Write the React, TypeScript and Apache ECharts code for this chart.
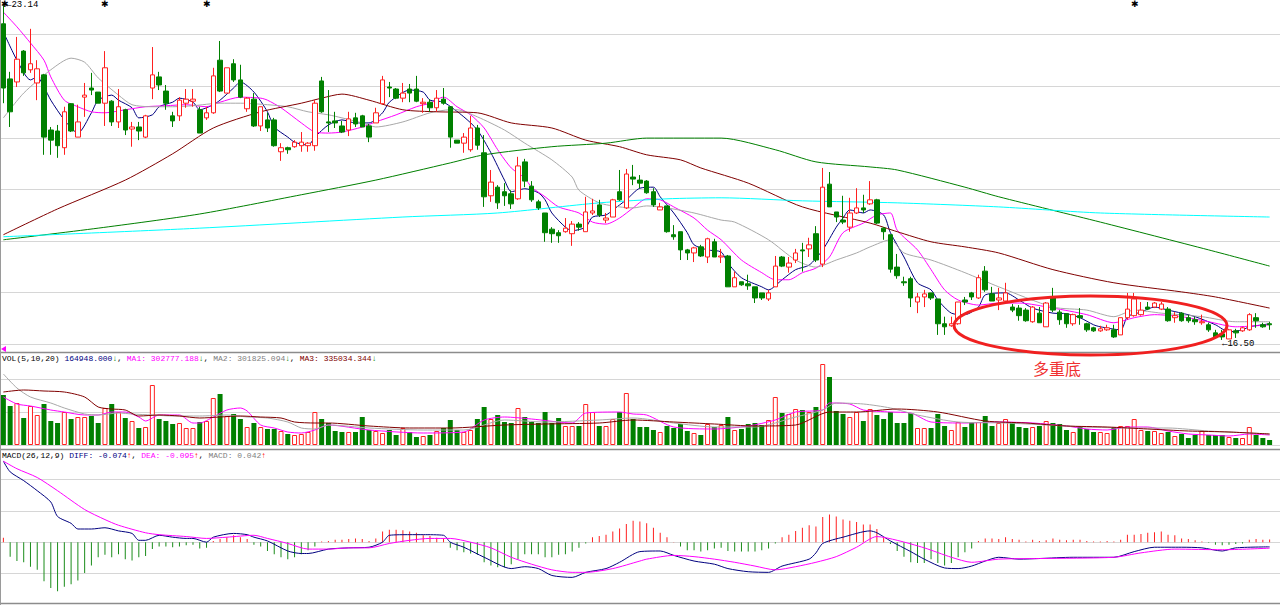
import React, { useEffect, useRef } from "react";
import * as echarts from "echarts";

// [open, close, low, high]
const candles: number[][] = [
[22.75,21.48,21.18,23.14],[21.66,21.01,20.71,21.80],[21.60,22.05,21.50,22.49],[22.21,21.78,21.72,22.23],[21.84,21.96,21.78,22.65],
[21.58,21.86,21.24,22.03],[21.74,20.51,20.16,21.76],[20.65,20.45,20.16,20.71],[20.63,20.34,20.10,20.75],[20.30,21.01,20.16,21.11],
[21.17,20.63,20.61,21.18],[20.51,20.81,20.51,21.15],[21.30,21.34,20.91,21.58],[21.48,21.44,21.34,21.78],[21.40,21.18,21.18,21.40],
[21.18,21.88,20.73,22.21],[21.22,20.81,20.73,21.24],[20.81,21.11,20.69,21.46],[21.05,20.65,20.55,21.07],[20.67,20.71,20.32,20.81],
[20.71,20.63,20.45,20.81],[20.51,20.93,20.49,20.95],[21.48,21.74,21.26,22.29],[21.70,21.54,21.44,21.80],[21.42,21.18,21.05,21.54],
[20.93,20.83,20.71,21.01],[20.93,21.24,20.83,21.30],[21.18,21.26,21.09,21.46],[21.22,21.26,21.11,21.46],[21.05,20.59,20.59,21.11],
[20.89,20.99,20.85,21.11],[20.99,21.72,20.97,21.88],[22.03,21.42,21.40,22.41],[21.38,21.88,21.38,21.88],[21.96,21.64,21.60,22.05],
[21.64,21.30,21.28,21.94],[21.07,21.28,21.01,21.30],[21.26,20.73,20.71,21.38],[20.73,21.11,20.63,21.11],[20.85,20.69,20.61,20.99],
[20.85,20.34,20.32,20.89],[20.22,20.30,20.04,20.39],[20.30,20.26,20.18,20.32],[20.32,20.41,20.30,20.45],[20.34,20.41,20.22,20.61],
[20.34,20.39,20.22,20.41],[20.34,21.18,20.24,21.24],[21.62,21.01,20.99,21.70],[20.81,20.79,20.61,21.44],[20.83,20.79,20.69,21.01],
[20.73,20.61,20.59,20.83],[20.65,20.87,20.53,21.01],[20.89,20.77,20.71,20.99],[20.93,20.71,20.71,20.95],[20.73,20.51,20.41,20.77],
[20.79,20.99,20.79,21.09],[21.17,21.64,21.15,21.72],[21.50,21.48,21.30,21.60],[21.46,21.28,21.26,21.48],[21.28,21.38,21.20,21.58],
[21.46,21.38,21.20,21.56],[21.46,21.22,21.20,21.72],[21.17,21.20,20.99,21.28],[21.20,21.09,21.01,21.26],[21.09,21.28,21.01,21.44],
[21.26,21.18,21.15,21.48],[21.11,20.51,20.30,21.11],[20.45,20.39,20.39,20.45],[20.39,20.51,20.20,20.59],[20.26,20.69,20.22,20.93],
[20.69,20.35,20.26,20.75],[20.20,19.33,19.13,20.55],[19.35,19.62,19.23,19.86],[19.52,19.21,19.09,19.56],[19.43,19.35,19.15,19.60],
[19.39,19.19,19.09,19.46],[19.29,19.94,19.27,20.12],[20.02,19.64,19.52,20.08],[19.54,19.27,19.23,19.64],[19.23,19.11,19.07,19.27],
[19.01,18.62,18.44,19.01],[18.69,18.60,18.42,18.73],[18.62,18.56,18.42,18.67],[18.64,18.71,18.62,18.91],[18.60,18.79,18.36,18.85],
[18.79,18.73,18.66,18.83],[18.64,19.03,18.64,19.33],[19.01,19.05,18.97,19.29],[19.17,18.97,18.93,19.27],[18.87,18.91,18.81,19.01],
[18.93,19.27,18.93,19.29],[19.43,19.27,19.25,19.86],[19.11,19.78,19.09,19.88],[19.72,19.68,19.56,19.96],[19.66,19.60,19.50,19.76],
[19.64,19.41,19.39,19.66],[19.43,19.17,19.13,19.50],[19.07,19.13,19.07,19.21],[19.15,18.64,18.62,19.15],[18.58,18.54,18.48,18.77],
[18.64,18.28,18.08,18.64],[18.28,18.22,18.08,18.30],[18.22,18.32,18.04,18.34],[18.34,18.16,18.14,18.38],[18.14,18.50,18.02,18.52],
[18.44,18.14,18.14,18.50],[18.14,18.16,18.02,18.30],[18.16,17.55,17.55,18.18],[17.55,17.73,17.55,17.85],[17.65,17.59,17.57,17.65],
[17.61,17.57,17.49,17.79],[17.55,17.33,17.23,17.55],[17.43,17.33,17.29,17.43],[17.31,17.43,17.27,17.49],[17.55,17.96,17.55,18.16],
[18.14,17.96,17.94,18.16],[17.94,18.02,17.83,18.14],[18.08,18.22,18.02,18.30],[18.28,18.26,17.85,18.42],[18.30,18.38,18.14,18.52],
[18.60,18.08,18.04,18.75],[18.00,19.52,17.94,19.90],[19.58,19.13,19.13,19.82],[19.03,18.93,18.83,19.03],[18.87,18.83,18.79,19.35],
[18.73,19.01,18.64,19.31],[19.01,19.11,18.99,19.50],[19.11,19.07,19.01,19.37],[19.19,19.27,19.17,19.64],[19.27,18.81,18.79,19.29],
[18.71,18.64,18.48,18.73],[18.58,17.90,17.83,18.58],[17.94,17.77,17.71,18.20],[17.65,17.63,17.57,17.75],[17.71,17.33,17.15,17.75],
[17.25,17.35,17.03,17.43],[17.35,17.41,17.15,17.49],[17.43,17.33,17.29,17.43],[17.31,16.82,16.60,17.31],[16.82,16.76,16.60,16.96],
[16.78,16.82,16.76,16.96],[16.82,17.25,16.80,17.25],[17.29,17.25,17.19,17.35],[17.43,17.35,17.29,17.45],[17.33,17.73,17.31,17.79],
[17.86,17.49,17.45,17.96],[17.41,17.27,17.27,17.55],[17.29,17.33,17.09,17.53],[17.27,17.43,17.23,17.63],[17.15,17.09,17.05,17.21],
[17.13,16.98,16.88,17.19],[17.09,16.88,16.86,17.13],[16.86,17.15,16.84,17.17],[17.03,16.84,16.84,17.15],[16.76,17.23,16.76,17.25],
[17.35,17.09,17.05,17.53],[17.05,16.90,16.80,17.09],[17.02,16.82,16.74,17.03],[16.82,17.00,16.78,17.02],[16.98,16.94,16.80,17.13],
[16.82,16.70,16.66,16.84],[16.74,16.68,16.66,16.76],[16.68,16.72,16.66,16.78],[16.70,16.74,16.68,16.80],[16.70,16.56,16.54,16.80],
[16.60,16.94,16.60,16.94],[16.94,17.11,16.90,17.43],[16.98,17.31,16.96,17.43],[17.00,17.09,16.98,17.25],[17.15,17.11,17.09,17.25],
[17.15,17.23,17.13,17.25],[17.11,17.21,17.09,17.25],[17.11,16.88,16.86,17.15],[16.94,16.98,16.84,17.05],[17.03,16.88,16.86,17.05],
[16.94,16.88,16.84,17.00],[16.90,16.86,16.80,16.96],[16.84,16.86,16.80,17.00],[16.80,16.70,16.66,16.84],[16.64,16.56,16.54,16.70],
[16.62,16.56,16.50,16.70],[16.52,16.70,16.52,16.72],[16.68,16.64,16.54,16.72],[16.68,16.74,16.66,16.76],[16.70,17.00,16.68,17.03],
[16.94,16.88,16.74,17.03],[16.80,16.76,16.74,16.84],[16.82,16.80,16.70,16.86],
];

const volumes: number[] = [
1650000,1287000,1386000,891000,1287000,990000,1353000,792000,726000,1089000,
858000,924000,924000,957000,726000,1221000,1353000,1089000,891000,792000,
561000,594000,1980000,858000,792000,693000,726000,561000,561000,759000,
792000,1551000,1683000,957000,1023000,858000,594000,726000,594000,528000,
528000,462000,363000,330000,363000,429000,1089000,858000,726000,462000,
429000,429000,429000,924000,495000,462000,396000,495000,330000,561000,
429000,264000,297000,330000,462000,561000,825000,495000,429000,495000,
858000,1254000,858000,990000,759000,726000,1221000,924000,759000,726000,
1089000,726000,891000,627000,627000,627000,1353000,1089000,627000,627000,
858000,1089000,1716000,858000,594000,594000,495000,429000,627000,561000,
693000,462000,396000,330000,693000,594000,660000,924000,495000,528000,
693000,726000,660000,825000,1584000,1056000,1023000,1188000,1155000,1089000,
1254000,2673000,2244000,1122000,1023000,924000,1089000,792000,1188000,990000,
858000,1089000,726000,726000,1056000,561000,561000,561000,1023000,627000,
495000,759000,594000,759000,759000,957000,627000,726000,858000,726000,
594000,561000,594000,627000,792000,726000,693000,495000,429000,594000,
528000,429000,429000,396000,594000,627000,627000,858000,495000,462000,
462000,396000,429000,297000,363000,231000,330000,462000,330000,330000,
330000,264000,231000,231000,594000,330000,231000,164948,
];

const macdHist: number[] = [
0.07,-0.23,-0.30,-0.32,-0.39,-0.44,-0.62,-0.73,-0.78,-0.71,
-0.67,-0.61,-0.49,-0.37,-0.24,-0.20,-0.24,-0.19,-0.27,-0.29,
-0.24,-0.22,-0.11,-0.07,-0.07,-0.08,-0.07,-0.05,-0.04,-0.10,
-0.09,0.02,0.05,0.08,0.11,0.08,0.05,-0.04,-0.07,-0.14,
-0.19,-0.24,-0.27,-0.24,-0.19,-0.13,-0.07,0.01,0.02,0.04,
0.04,0.05,0.06,0.05,0.02,0.06,0.17,0.20,0.20,0.19,
0.17,0.15,0.11,0.10,0.07,0.05,-0.09,-0.13,-0.16,-0.18,
-0.20,-0.32,-0.37,-0.40,-0.40,-0.35,-0.27,-0.19,-0.19,-0.19,
-0.24,-0.24,-0.20,-0.19,-0.15,-0.09,-0.02,0.08,0.10,0.12,
0.17,0.22,0.29,0.34,0.33,0.30,0.23,0.15,0.08,0.005,
-0.07,-0.13,-0.13,-0.15,-0.13,-0.10,-0.09,-0.14,-0.15,-0.15,
-0.15,-0.15,-0.13,-0.10,-0.02,0.08,0.12,0.18,0.23,0.27,
0.25,0.40,0.44,0.41,0.36,0.34,0.32,0.28,0.28,0.21,
0.08,-0.03,-0.14,-0.23,-0.32,-0.33,-0.33,-0.27,-0.33,-0.37,
-0.33,-0.24,-0.16,-0.10,0.02,0.06,0.06,0.05,0.08,0.05,
0.04,0.01,0.04,0.02,0.03,0.06,0.04,0.03,0.04,0.04,
0.02,0.01,0.01,0.02,0.01,0.04,0.12,0.12,0.13,0.15,
0.16,0.17,0.12,0.11,0.06,0.05,0.03,0.01,-0.01,-0.04,
-0.05,-0.04,-0.03,-0.02,0.04,0.05,0.04,0.042,
];

// moving-average readings: [day index, value]
const ma5Pts = [[0,22.59],[2,22.03],[4,21.64],[5,21.70],[6,21.50],[7,21.24],[9,20.85],[11,20.59],[13,20.99],[14,21.24],[16,21.34],[17,21.24],[19,21.09],[20,20.89],[22,20.95],[23,21.11],[25,21.20],[26,21.28],[28,21.20],[29,21.05],[31,21.15],[32,21.24],[34,21.48],[35,21.60],[37,21.40],[39,21.01],[40,20.71],[42,20.51],[43,20.41],[45,20.35],[46,20.51],[48,20.75],[50,20.85],[52,20.79],[54,20.79],[56,20.99],[57,21.20],[60,21.44],[62,21.40],[63,21.24],[65,21.20],[68,20.91],[70,20.65],[72,20.20],[74,19.66],[75,19.43],[76,19.46],[77,19.49],[79,19.41],[80,19.27],[81,19.01],[83,18.73],[84,18.66],[86,18.73],[87,18.93],[89,18.97],[90,19.07],[92,19.27],[94,19.50],[96,19.52],[97,19.33],[99,19.01],[101,18.62],[102,18.38],[104,18.28],[106,18.24],[107,18.02],[109,17.73],[112,17.55],[113,17.49],[115,17.69],[117,17.89],[119,17.98],[121,18.28],[123,18.73],[124,18.91],[125,19.07],[127,19.01],[128,19.07],[130,18.97],[131,18.62],[133,18.14],[135,17.63],[137,17.49],[138,17.29],[140,17.03],[142,17.00],[144,17.15],[145,17.39],[148,17.43],[150,17.29],[152,17.13],[155,17.03],[157,17.02],[159,16.94],[161,16.80],[162,16.76],[165,16.70],[166,16.96],[168,17.05],[170,17.15],[172,17.09],[174,17.03],[176,16.96],[179,16.80],[181,16.66],[183,16.70],[184,16.76],[186,16.80],[187,16.82]];
const ma10Pts = [[0,22.98],[2,22.69],[4,22.37],[6,22.03],[7,21.70],[9,21.24],[11,21.11],[13,21.01],[15,20.99],[18,21.05],[21,21.11],[24,21.13],[27,21.15],[30,21.11],[32,21.20],[35,21.30],[38,21.28],[39,21.24],[41,21.09],[44,20.79],[46,20.61],[48,20.59],[50,20.61],[53,20.71],[55,20.81],[58,20.95],[61,21.11],[63,21.18],[65,21.30],[67,21.11],[69,20.95],[71,20.69],[73,20.26],[75,19.90],[77,19.70],[78,19.52],[80,19.33],[82,19.13],[85,19.01],[87,18.83],[89,18.79],[91,18.91],[93,19.11],[95,19.29],[97,19.27],[99,19.13],[102,18.91],[104,18.67],[106,18.48],[109,18.08],[112,17.83],[114,17.69],[116,17.69],[118,17.83],[120,17.92],[122,18.14],[124,18.62],[127,18.81],[129,18.97],[131,19.01],[132,18.67],[135,18.28],[137,17.89],[139,17.49],[141,17.29],[144,17.19],[147,17.23],[150,17.23],[155,17.13],[160,17.00],[164,16.84],[167,16.94],[170,17.00],[174,16.96],[178,16.86],[182,16.76],[187,16.80]];
const ma20Pts = [[0,20.89],[3,21.38],[7,21.84],[10,22.07],[12,21.99],[14,21.68],[17,21.34],[19,21.15],[22,21.11],[25,21.11],[28,21.13],[32,21.18],[35,21.18],[39,21.15],[42,21.11],[45,21.01],[48,20.95],[50,20.89],[53,20.79],[55,20.71],[59,20.81],[63,20.99],[66,21.05],[67,21.05],[70,20.91],[74,20.65],[77,20.39],[81,20.06],[84,19.72],[85,19.46],[88,19.21],[91,19.13],[93,19.11],[95,19.15],[98,19.11],[102,19.01],[106,18.87],[108,18.83],[113,18.48],[117,18.08],[120,17.94],[123,18.08],[126,18.22],[128,18.34],[131,18.48],[133,18.22],[137,18.08],[142,17.83],[147,17.55],[155,17.15],[160,17.09],[164,16.96],[167,17.09],[171,17.03],[177,16.96],[182,16.86],[187,16.86]];
const ma60Pts = [[0,18.58],[8,19.09],[18,19.66],[25,20.18],[31,20.69],[38,21.01],[44,21.18],[47,21.28],[50,21.36],[54,21.24],[59,21.05],[64,21.01],[70,20.99],[75,20.79],[81,20.69],[86,20.45],[91,20.32],[95,20.16],[100,20.06],[103,19.90],[110,19.60],[118,19.13],[128,18.81],[132,18.64],[137,18.44],[142,18.34],[147,18.22],[155,17.89],[164,17.63],[174,17.45],[179,17.35],[187,17.13]];
const ma120Pts = [[0,18.48],[14,18.71],[29,18.99],[44,19.37],[55,19.66],[66,20.00],[71,20.16],[81,20.32],[89,20.39],[95,20.49],[106,20.49],[114,20.26],[120,20.02],[128,19.92],[132,19.86],[142,19.52],[147,19.33],[162,18.83],[178,18.28],[187,17.96]];
const ma250Pts = [[0,18.54],[29,18.71],[59,18.93],[73,19.01],[88,19.21],[98,19.29],[106,19.31],[118,19.25],[132,19.21],[147,19.13],[162,19.01],[187,18.93]];

const volMa5Pts = [[0,1584000],[2,1353000],[4,1287000],[7,1155000],[9,1089000],[12,990000],[14,990000],[16,1089000],[18,1089000],[20,924000],[21,792000],[23,990000],[26,990000],[28,726000],[29,726000],[31,924000],[33,1155000],[35,1221000],[36,1122000],[38,660000],[40,561000],[42,429000],[44,396000],[46,495000],[48,660000],[54,495000],[62,396000],[68,429000],[71,825000],[74,924000],[78,858000],[84,726000],[86,1056000],[91,1089000],[93,1023000],[95,990000],[99,594000],[105,528000],[110,627000],[114,825000],[117,1089000],[121,1155000],[122,1386000],[125,1353000],[127,1155000],[131,1089000],[134,1056000],[137,759000],[142,726000],[147,759000],[152,726000],[157,627000],[160,528000],[163,495000],[166,594000],[169,594000],[172,462000],[175,363000],[178,330000],[181,297000],[184,363000],[187,330000]];
const volMa10Pts = [[0,2343000],[2,1881000],[4,1584000],[7,1386000],[9,1221000],[12,1023000],[14,990000],[17,1056000],[19,1023000],[22,990000],[25,957000],[29,957000],[33,990000],[36,924000],[39,891000],[42,759000],[44,561000],[46,528000],[48,660000],[54,561000],[62,495000],[68,495000],[74,825000],[80,759000],[88,825000],[93,891000],[99,726000],[105,594000],[111,594000],[117,924000],[121,1155000],[123,1386000],[127,1353000],[131,1221000],[135,990000],[141,759000],[148,726000],[154,660000],[160,594000],[166,561000],[172,561000],[178,462000],[184,396000],[187,363000]];
const volMa20Pts = [[0,1749000],[3,1815000],[6,1782000],[9,1749000],[12,1584000],[14,1254000],[16,1188000],[18,1155000],[20,957000],[23,990000],[26,957000],[29,891000],[32,924000],[35,957000],[38,924000],[41,891000],[43,759000],[46,726000],[48,726000],[54,627000],[60,561000],[66,561000],[74,660000],[80,693000],[88,726000],[93,825000],[99,759000],[105,693000],[111,627000],[117,660000],[122,1089000],[126,1089000],[132,1188000],[138,1089000],[145,792000],[151,726000],[157,627000],[163,594000],[169,528000],[175,462000],[181,429000],[187,363000]];

const diffPts = [[0,1.29],[1,1.12],[3,0.98],[5,0.82],[7,0.64],[8,0.41],[10,0.30],[11,0.21],[13,0.21],[15,0.23],[17,0.18],[19,0.14],[20,0.03],[21,0.03],[23,0.11],[25,0.08],[27,0.06],[28,0.06],[30,0.0],[31,0.08],[34,0.14],[36,0.12],[37,0.08],[39,0.02],[42,-0.14],[44,-0.18],[45,-0.18],[48,-0.11],[51,-0.09],[54,-0.08],[56,0.0],[57,0.11],[60,0.12],[62,0.12],[65,0.11],[66,0.0],[68,-0.08],[71,-0.24],[75,-0.42],[77,-0.39],[79,-0.42],[81,-0.53],[84,-0.56],[86,-0.48],[89,-0.42],[91,-0.32],[94,-0.15],[97,-0.14],[99,-0.21],[102,-0.30],[105,-0.35],[107,-0.42],[110,-0.47],[113,-0.48],[115,-0.38],[119,-0.27],[120,-0.17],[121,-0.02],[124,0.08],[128,0.18],[129,0.15],[131,0.02],[134,-0.15],[136,-0.27],[139,-0.41],[141,-0.42],[143,-0.38],[145,-0.30],[147,-0.24],[150,-0.27],[153,-0.26],[158,-0.24],[164,-0.24],[167,-0.15],[170,-0.08],[174,-0.08],[177,-0.09],[180,-0.14],[182,-0.09],[187,-0.074]];
const deaPts = [[0,1.29],[2,1.17],[5,1.03],[8,0.82],[12,0.52],[15,0.36],[17,0.27],[21,0.15],[23,0.12],[27,0.09],[30,0.06],[33,0.08],[37,0.11],[39,0.06],[42,-0.02],[45,-0.11],[48,-0.11],[51,-0.09],[54,-0.09],[57,-0.02],[60,0.03],[63,0.06],[66,0.06],[69,0.0],[72,-0.09],[75,-0.24],[78,-0.35],[81,-0.44],[84,-0.48],[86,-0.48],[90,-0.42],[94,-0.30],[95,-0.27],[99,-0.21],[102,-0.23],[105,-0.27],[108,-0.32],[111,-0.38],[114,-0.44],[117,-0.39],[120,-0.32],[123,-0.23],[126,-0.08],[129,0.09],[132,0.03],[136,-0.09],[140,-0.24],[143,-0.32],[147,-0.27],[153,-0.26],[164,-0.24],[168,-0.17],[173,-0.11],[180,-0.12],[187,-0.095]];

const days = candles.map((_, i) => "D" + (i + 1));

const GRID_W = 1273;
const gridColor = "#d6d6d6";

function maLine(name: string, pts: number[][], color: string, xi: number, yi: number) {
  return {
    name, type: "line", xAxisIndex: xi, yAxisIndex: yi, data: pts,
    symbol: "none", smooth: 0.25, silent: true,
    lineStyle: { color, width: 1 }, z: 3,
  };
}

function bgAxis(gridIndex: number, max: number) {
  return {
    type: "value", gridIndex, min: 0, max, interval: 1,
    axisLine: { show: false }, axisTick: { show: false }, axisLabel: { show: false },
    splitLine: { show: true, showMaxLine: false, lineStyle: { color: gridColor, width: 1 } },
  };
}

export default function App() {
  const ref = useRef<HTMLDivElement>(null);
  useEffect(() => {
    if (!ref.current) return;
    const chart = echarts.init(ref.current, null, { renderer: "svg" });
    const catAxis = (gridIndex: number) => ({
      type: "category", gridIndex, data: days, boundaryGap: true,
      axisLine: { show: false }, axisTick: { show: false }, axisLabel: { show: false }, splitLine: { show: false },
    });
    const hiddenX = (gridIndex: number) => ({ type: "value", gridIndex, show: false, min: 0, max: 1 });
    const mono = "'Liberation Mono', 'DejaVu Sans Mono', monospace";

    const volData = volumes.map((v, i) => {
      const up = candles[i][1] >= candles[i][0];
      return {
        value: v,
        itemStyle: up
          ? { color: "#ffffff", borderColor: "#ff2020", borderWidth: 1 }
          : { color: "#008000", borderColor: "#008000", borderWidth: 0 },
      };
    });
    const macdData = macdHist.map((v) => ({ value: v, itemStyle: { color: v >= 0 ? "#ff2020" : "#1a8c1a" } }));

    chart.setOption({
      animation: false,
      backgroundColor: "#ffffff",
      grid: [
        { left: 0, top: 0, width: GRID_W, height: 344 },
        { left: 0, top: 347, width: GRID_W, height: 98 },
        { left: 0, top: 448, width: GRID_W, height: 165 },
        { left: 0, top: 0, width: 1280, height: 344.4 },
        { left: 0, top: 347, width: 1280, height: 98 },
        { left: 0, top: 448, width: 1280, height: 165 },
      ],
      xAxis: [catAxis(0), catAxis(1), catAxis(2), hiddenX(3), hiddenX(4), hiddenX(5)],
      yAxis: [
        { type: "value", gridIndex: 0, min: 16.42, max: 23.22, show: false },
        { type: "value", gridIndex: 1, min: 0, max: 3234000, show: false },
        { type: "value", gridIndex: 2, min: -1, max: 1.5, show: false },
        bgAxis(3, 6.667),
        bgAxis(4, 3),
        bgAxis(5, 5),
      ],
      series: [
        {
          type: "candlestick", xAxisIndex: 0, yAxisIndex: 0, data: candles, barWidth: 5, z: 4,
          itemStyle: { color: "#ffffff", color0: "#008000", borderColor: "#ff2020", borderColor0: "#008000", borderWidth: 1 },
        },
        maLine("MA5", ma5Pts, "#00007f", 0, 0),
        maLine("MA10", ma10Pts, "#ff00ff", 0, 0),
        maLine("MA20", ma20Pts, "#a8a8a8", 0, 0),
        maLine("MA60", ma60Pts, "#800000", 0, 0),
        maLine("MA120", ma120Pts, "#008000", 0, 0),
        maLine("MA250", ma250Pts, "#00ffff", 0, 0),
        { type: "bar", xAxisIndex: 1, yAxisIndex: 1, data: volData, barWidth: 5, z: 2 },
        maLine("VMA5", volMa5Pts, "#ff00ff", 1, 1),
        maLine("VMA10", volMa10Pts, "#a8a8a8", 1, 1),
        maLine("VMA20", volMa20Pts, "#800000", 1, 1),
        { type: "bar", xAxisIndex: 2, yAxisIndex: 2, data: macdData, barWidth: 1, z: 2 },
        maLine("DIFF", diffPts, "#00007f", 2, 2),
        maLine("DEA", deaPts, "#ff00ff", 2, 2),
      ],
      graphic: [
        { type: "line", shape: { x1: 0, y1: 352.5, x2: 1280, y2: 352.5 }, style: { stroke: "#8c8c8c", lineWidth: 1.5 }, z: 10 },
        { type: "line", shape: { x1: 0, y1: 449.5, x2: 1280, y2: 449.5 }, style: { stroke: "#8c8c8c", lineWidth: 1.5 }, z: 10 },
        { type: "line", shape: { x1: 0, y1: 603.5, x2: 1280, y2: 603.5 }, style: { stroke: "#8c8c8c", lineWidth: 1.5 }, z: 10 },
        { type: "line", shape: { x1: 0.5, y1: 0, x2: 0.5, y2: 605 }, style: { stroke: "#9a9a9a", lineWidth: 1 }, z: 10 },
        { type: "polygon", shape: { points: [[1, 349], [6, 346], [6, 352]] }, style: { fill: "#ff00ff" }, z: 10 },
        { type: "text", x: 6, y: 0, style: { text: "←23.14", font: `9px ${mono}`, fill: "#000" }, z: 10 },
        { type: "text", x: 1, y: -1, style: { text: "✱", font: "9px 'DejaVu Sans'", fill: "#000" }, z: 10 },
        { type: "text", x: 101, y: -1, style: { text: "✱", font: "9px 'DejaVu Sans'", fill: "#000" }, z: 10 },
        { type: "text", x: 203, y: -1, style: { text: "✱", font: "9px 'DejaVu Sans'", fill: "#000" }, z: 10 },
        { type: "text", x: 1131, y: -1, style: { text: "✱", font: "9px 'DejaVu Sans'", fill: "#000" }, z: 10 },
        { type: "text", x: 1222, y: 339, style: { text: "←16.50", font: `9px ${mono}`, fill: "#000" }, z: 10 },
        {
          type: "text", x: 2, y: 354,
          style: {
            text: "{k|VOL(5,10,20)} {n|164948.000}{g|↓}{k|, }{m|MA1: 302777.188}{g|↓}{k|, }{s|MA2: 301825.094}{g|↓}{k|, }{r|MA3: 335034.344}{g|↓}",
            font: `8px ${mono}`,
            rich: {
              k: { fill: "#000", font: `8px ${mono}` },
              n: { fill: "#00007f", font: `8px ${mono}` },
              g: { fill: "#008000", font: `8px ${mono}` },
              m: { fill: "#ff00ff", font: `8px ${mono}` },
              s: { fill: "#808080", font: `8px ${mono}` },
              r: { fill: "#800000", font: `8px ${mono}` },
            },
          },
          z: 10,
        },
        {
          type: "text", x: 2, y: 451,
          style: {
            text: "{k|MACD(26,12,9)} {n|DIFF: -0.074}{g|↑}{k|, }{m|DEA: -0.095}{g|↑}{k|, }{s|MACD: 0.042}{g|↑}",
            font: `8px ${mono}`,
            rich: {
              k: { fill: "#000", font: `8px ${mono}` },
              n: { fill: "#00007f", font: `8px ${mono}` },
              g: { fill: "#ff0000", font: `8px ${mono}` },
              m: { fill: "#ff00ff", font: `8px ${mono}` },
              s: { fill: "#808080", font: `8px ${mono}` },
            },
          },
          z: 10,
        },
        { type: "ellipse", shape: { cx: 1090.5, cy: 325.5, rx: 136.5, ry: 29.5 }, style: { fill: "none", stroke: "#f02020", lineWidth: 3 }, z: 11 },
        { type: "text", x: 1033, y: 360, style: { text: "多重底", font: "16px 'Noto Sans CJK SC'", fill: "#f03030" }, z: 11 },
      ],
    });
    return () => chart.dispose();
  }, []);
  return <div ref={ref} style={{ position: "absolute", left: 0, top: 0, width: 1280, height: 605 }} />;
}
